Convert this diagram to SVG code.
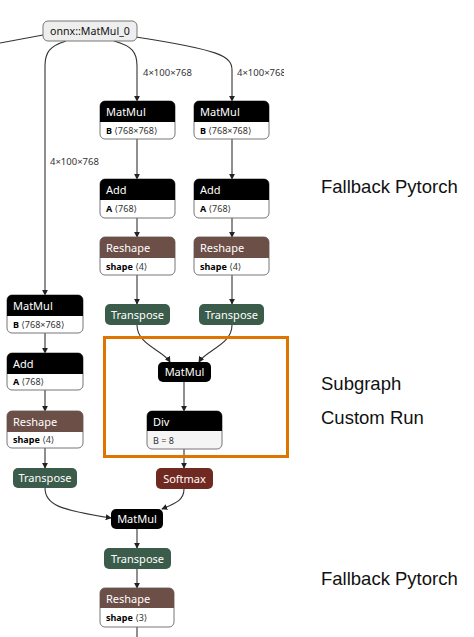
<svg xmlns="http://www.w3.org/2000/svg" width="474" height="637" viewBox="0 0 474 637">
<defs>
<marker id="ah" viewBox="0 0 8 8" refX="7" refY="4" markerWidth="6" markerHeight="6" markerUnits="userSpaceOnUse" orient="auto">
<path d="M0,0 L8,4 L0,8 Z" fill="#222"/>
</marker>
<clipPath id="clipR"><rect x="0" y="0" width="284" height="637"/></clipPath>
<style>
.e{fill:none;stroke:#333;stroke-width:1.1}
.ea{fill:none;stroke:#333;stroke-width:1.1;marker-end:url(#ah)}
.el{font-family:"Noto Sans","DejaVu Sans",sans-serif;font-size:9.5px;fill:#333}
.box{fill:#fff;stroke:#777;stroke-width:1}
.hd{font-family:"Noto Sans","DejaVu Sans",sans-serif;font-size:11px;fill:#fff}
.at{font-family:"Noto Sans","DejaVu Sans",sans-serif;font-size:9px;fill:#333}
.atb{font-weight:bold;fill:#000}
.blk{fill:#000}
.rsh{fill:#6c4f47}
.trn{fill:#3b5c4a}
.sfm{fill:#702921}
.side{font-family:"Liberation Sans",Arial,sans-serif;font-size:18.5px;fill:#111}
</style>
</defs>
<rect width="474" height="637" fill="#fff"/>

<g id="connectors">
<path class="e" d="M43,35 L0,43"/>
<path class="ea" d="M66,41 C50,46 45,52 45,66 L45,295"/>
<path class="ea" d="M114,41 C132,46 137,52 137,66 L137,101"/>
<path class="ea" d="M136,37 C220,50 232,56 232,70 L232,101"/>
<path class="ea" d="M137,139 L137,179"/>
<path class="ea" d="M232,139 L232,179"/>
<path class="ea" d="M137,218 L137,237"/>
<path class="ea" d="M232,218 L232,237"/>
<path class="ea" d="M137,275 L137,304"/>
<path class="ea" d="M232,275 L232,304"/>
<path class="ea" d="M45,333 L45,353"/>
<path class="ea" d="M45,390 L45,411"/>
<path class="ea" d="M45,448 L45,468"/>
<path class="ea" d="M137,325 C137,345 163,350 170,362"/>
<path class="ea" d="M232,325 C232,345 206,350 199,362"/>
<path class="ea" d="M184,382 L184,411"/>
<path class="ea" d="M184,449 L184,468"/>
<path class="ea" d="M184,489 C184,500 176,503 162,509"/>
<path class="ea" d="M45,488 C45,505 60,510 111,518"/>
<path class="ea" d="M137,529 L137,548"/>
<path class="ea" d="M137,569 L137,588"/>
<path class="e" d="M137,627 L137,637"/>
<text class="el" x="143" y="76">4×100×768</text>
<text class="el" x="237" y="76" clip-path="url(#clipR)">4×100×768</text>
<text class="el" x="50" y="165">4×100×768</text>
</g>

<g id="input">
<rect x="43" y="21" width="94" height="20" rx="5" fill="#eee" stroke="#777"/>
<text x="90" y="35" text-anchor="middle" font-family="Noto Sans, DejaVu Sans, sans-serif" font-size="10.6" fill="#111">onnx::MatMul_0</text>
</g>

<g id="matmul_q">
<rect class="box" x="100" y="101" width="75" height="38" rx="5"/>
<path class="blk" d="M105,101 H170 A5,5 0 0 1 175,106 V122 H100 V106 A5,5 0 0 1 105,101 Z"/>
<text class="hd" x="106" y="116">MatMul</text>
<text class="at" x="106" y="134"><tspan class="atb">B</tspan> ⟨768×768⟩</text>
</g>
<g id="matmul_k">
<rect class="box" x="194" y="101" width="75" height="38" rx="5"/>
<path class="blk" d="M199,101 H264 A5,5 0 0 1 269,106 V122 H194 V106 A5,5 0 0 1 199,101 Z"/>
<text class="hd" x="200" y="116">MatMul</text>
<text class="at" x="200" y="134"><tspan class="atb">B</tspan> ⟨768×768⟩</text>
</g>
<g id="add_q">
<rect class="box" x="100" y="179" width="75" height="39" rx="5"/>
<path class="blk" d="M105,179 H170 A5,5 0 0 1 175,184 V200 H100 V184 A5,5 0 0 1 105,179 Z"/>
<text class="hd" x="106" y="194">Add</text>
<text class="at" x="106" y="212"><tspan class="atb">A</tspan> ⟨768⟩</text>
</g>
<g id="add_k">
<rect class="box" x="194" y="179" width="75" height="39" rx="5"/>
<path class="blk" d="M199,179 H264 A5,5 0 0 1 269,184 V200 H194 V184 A5,5 0 0 1 199,179 Z"/>
<text class="hd" x="200" y="194">Add</text>
<text class="at" x="200" y="212"><tspan class="atb">A</tspan> ⟨768⟩</text>
</g>
<g id="reshape_q">
<rect class="box" x="100" y="237" width="75" height="38" rx="5"/>
<path class="rsh" d="M105,237 H170 A5,5 0 0 1 175,242 V258 H100 V242 A5,5 0 0 1 105,237 Z"/>
<text class="hd" x="106" y="252">Reshape</text>
<text class="at" x="106" y="270"><tspan class="atb">shape</tspan> ⟨4⟩</text>
</g>
<g id="reshape_k">
<rect class="box" x="194" y="237" width="75" height="38" rx="5"/>
<path class="rsh" d="M199,237 H264 A5,5 0 0 1 269,242 V258 H194 V242 A5,5 0 0 1 199,237 Z"/>
<text class="hd" x="200" y="252">Reshape</text>
<text class="at" x="200" y="270"><tspan class="atb">shape</tspan> ⟨4⟩</text>
</g>
<g id="transpose_q">
<rect class="trn" x="105" y="304" width="65" height="21" rx="5"/>
<text class="hd" x="137.5" y="318.5" text-anchor="middle">Transpose</text>
</g>
<g id="transpose_k">
<rect class="trn" x="199" y="304" width="65" height="21" rx="5"/>
<text class="hd" x="231.5" y="318.5" text-anchor="middle">Transpose</text>
</g>

<g id="matmul_v">
<rect class="box" x="7" y="295" width="76" height="38" rx="5"/>
<path class="blk" d="M12,295 H78 A5,5 0 0 1 83,300 V316 H7 V300 A5,5 0 0 1 12,295 Z"/>
<text class="hd" x="13" y="310">MatMul</text>
<text class="at" x="13" y="328"><tspan class="atb">B</tspan> ⟨768×768⟩</text>
</g>
<g id="add_v">
<rect class="box" x="7" y="353" width="76" height="37" rx="5"/>
<path class="blk" d="M12,353 H78 A5,5 0 0 1 83,358 V374 H7 V358 A5,5 0 0 1 12,353 Z"/>
<text class="hd" x="13" y="368">Add</text>
<text class="at" x="13" y="385"><tspan class="atb">A</tspan> ⟨768⟩</text>
</g>
<g id="reshape_v">
<rect class="box" x="7" y="411" width="76" height="37" rx="5"/>
<path class="rsh" d="M12,411 H78 A5,5 0 0 1 83,416 V432 H7 V416 A5,5 0 0 1 12,411 Z"/>
<text class="hd" x="13" y="426">Reshape</text>
<text class="at" x="13" y="443"><tspan class="atb">shape</tspan> ⟨4⟩</text>
</g>
<g id="transpose_v">
<rect class="trn" x="13" y="468" width="64" height="20" rx="5"/>
<text class="hd" x="45" y="482" text-anchor="middle">Transpose</text>
</g>

<g id="subgraph">
<rect x="104.5" y="337.5" width="183" height="119" fill="none" stroke="#e07400" stroke-width="3"/>
</g>
<g id="matmul_qk">
<rect class="blk" x="158" y="362" width="53" height="20" rx="5"/>
<text class="hd" x="184.5" y="376" text-anchor="middle">MatMul</text>
</g>
<g id="div">
<rect x="147" y="411" width="75" height="38" rx="5" fill="#f5f5f5" stroke="#777"/>
<path class="blk" d="M152,411 H217 A5,5 0 0 1 222,416 V431 H147 V416 A5,5 0 0 1 152,411 Z"/>
<text class="hd" x="153" y="425.5">Div</text>
<text class="at" x="153" y="444" fill="#555">B = 8</text>
</g>
<g id="softmax">
<rect class="sfm" x="156" y="468" width="57" height="21" rx="5"/>
<text class="hd" x="184.5" y="482.5" text-anchor="middle">Softmax</text>
</g>

<g id="matmul_av">
<rect class="blk" x="111" y="509" width="52" height="20" rx="5"/>
<text class="hd" x="137" y="523" text-anchor="middle">MatMul</text>
</g>
<g id="transpose_out">
<rect class="trn" x="104" y="548" width="67" height="21" rx="5"/>
<text class="hd" x="137.5" y="562.5" text-anchor="middle">Transpose</text>
</g>
<g id="reshape_out">
<rect class="box" x="100" y="588" width="74" height="39" rx="5"/>
<path class="rsh" d="M105,588 H169 A5,5 0 0 1 174,593 V608 H100 V593 A5,5 0 0 1 105,588 Z"/>
<text class="hd" x="106" y="602.5">Reshape</text>
<text class="at" x="106" y="621"><tspan class="atb">shape</tspan> ⟨3⟩</text>
</g>

<g id="labels">
<text class="side" x="321" y="193">Fallback Pytorch</text>
<text class="side" x="321" y="390">Subgraph</text>
<text class="side" x="321" y="424">Custom Run</text>
<text class="side" x="321" y="585">Fallback Pytorch</text>
</g>
</svg>
